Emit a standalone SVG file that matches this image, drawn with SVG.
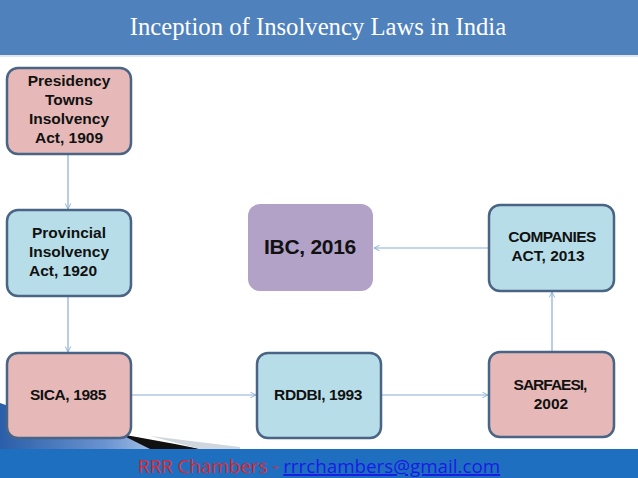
<svg xmlns="http://www.w3.org/2000/svg" width="638" height="478" viewBox="0 0 638 478">
<style>
.t{font-family:"Liberation Sans",Arial,sans-serif;font-weight:bold;font-size:15.5px;fill:#111;text-anchor:middle}
.pink{fill:#e6b9b8;stroke:#4a6485;stroke-width:2.5}
.blue{fill:#b7dee8;stroke:#4a6485;stroke-width:2.5}
.c{stroke:#8aaed4;stroke-width:1.2;fill:none;marker-end:url(#a)}
</style>
<defs>
<marker id="a" viewBox="0 0 10 10" refX="9" refY="5" markerWidth="7" markerHeight="7" orient="auto" markerUnits="userSpaceOnUse">
<path d="M1,1 L9,5 L1,9" fill="none" stroke="#8aaed4" stroke-width="1.3"/>
</marker>
<linearGradient id="sw" x1="0" y1="0" x2="1" y2="0">
<stop offset="0" stop-color="#2a5ea8"/>
<stop offset="0.7" stop-color="#6a93d0"/>
<stop offset="1" stop-color="#9fbbe3"/>
</linearGradient>
</defs>
<rect width="638" height="478" fill="#fff"/>
<rect x="0" y="0" width="638" height="55" fill="#4f81bd"/>
<rect x="0" y="55" width="638" height="2" fill="#dde7f3"/>
<text x="318" y="35" font-family="'Liberation Serif','Times New Roman',serif" font-size="24.7" fill="#fff" text-anchor="middle">Inception of Insolvency Laws in India</text>
<g id="swoosh">
<polygon points="0,403 60,424 140,438 150,449 0,449" fill="url(#sw)"/>
<polygon points="120,434 175,444 200,449 150,449" fill="#111"/>
<polygon points="150,436 240,447 240,449 200,449" fill="#cfd6de"/>
</g>
<rect x="0" y="449" width="638" height="29" fill="#1f6fc1"/>
<text x="319" y="473" font-family="'Open Sans','Liberation Sans',sans-serif" font-size="18.8" text-anchor="middle"><tspan fill="#e0262a">RRR Chambers - </tspan><tspan fill="#1a1ae6" text-decoration="underline">rrrchambers@gmail.com</tspan></text>
<g id="connectors">
<line class="c" x1="68" y1="155" x2="68" y2="209"/>
<line class="c" x1="68" y1="297" x2="68" y2="352"/>
<line class="c" x1="132" y1="395" x2="256" y2="395"/>
<line class="c" x1="382" y1="395" x2="488" y2="395"/>
<line class="c" x1="552" y1="351" x2="552" y2="292"/>
<line class="c" x1="488" y1="248" x2="374" y2="248"/>
</g>
<g id="presidency">
<rect class="pink" x="7" y="68" width="124" height="86" rx="11"/>
<text class="t" x="69" y="86">Presidency</text>
<text class="t" x="69" y="105">Towns</text>
<text class="t" x="69" y="124">Insolvency</text>
<text class="t" x="69" y="143">Act, 1909</text>
</g>
<g id="provincial">
<rect class="blue" x="7" y="210" width="124" height="86" rx="11"/>
<text class="t" x="69" y="238">Provincial</text>
<text class="t" x="69" y="257">Insolvency</text>
<text class="t" x="63" y="276">Act, 1920</text>
</g>
<g id="sica">
<rect class="pink" x="7" y="353" width="124" height="85" rx="11"/>
<text class="t" x="68" y="400" letter-spacing="-0.4">SICA, 1985</text>
</g>
<g id="rddbi">
<rect class="blue" x="257" y="353" width="124" height="85" rx="11"/>
<text class="t" x="318" y="400" letter-spacing="-0.4">RDDBI, 1993</text>
</g>
<g id="sarfaesi">
<rect class="pink" x="489" y="352" width="125" height="85" rx="11"/>
<text class="t" x="550" y="390" letter-spacing="-1">SARFAESI,</text>
<text class="t" x="551" y="409">2002</text>
</g>
<g id="companies">
<rect class="blue" x="489" y="205" width="125" height="86" rx="11" stroke-width="3"/>
<text class="t" x="552" y="242" letter-spacing="-0.6">COMPANIES</text>
<text class="t" x="548" y="261">ACT, 2013</text>
</g>
<g id="ibc">
<rect x="248" y="204" width="125" height="87" rx="12" fill="#b2a2c7"/>
<text class="t" x="310" y="254" style="font-size:21px" letter-spacing="-0.3">IBC, 2016</text>
</g>
</svg>
